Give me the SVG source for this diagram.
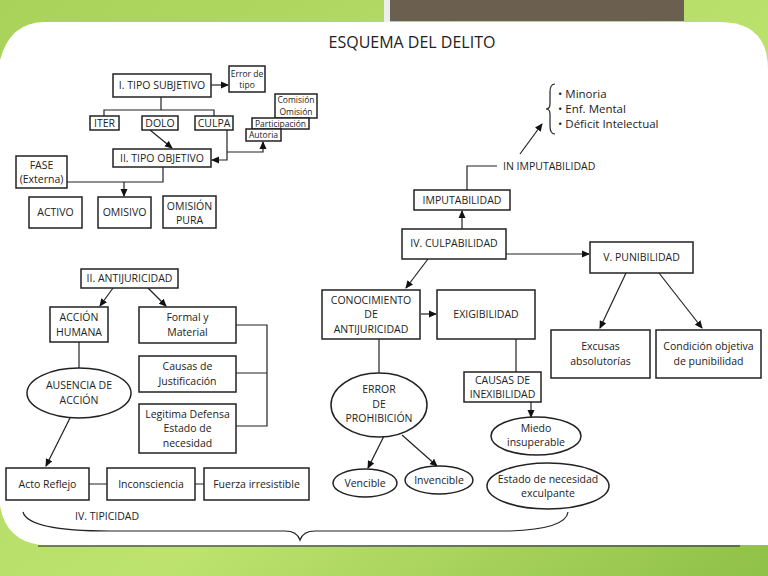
<svg xmlns="http://www.w3.org/2000/svg" width="768" height="576" viewBox="0 0 768 576">
<defs>
<linearGradient id="bg" x1="0" y1="0" x2="1" y2="1"><stop offset="0" stop-color="#a8d25a"/><stop offset="0.6" stop-color="#bde36e"/><stop offset="1" stop-color="#8fc048"/></linearGradient>
<marker id="ah" markerWidth="8" markerHeight="8" refX="7" refY="4" orient="auto" markerUnits="userSpaceOnUse"><path d="M0,0.5 L8,4 L0,7.5 Z" fill="#111"/></marker>
<style>
.b{fill:#fff;stroke:#222;stroke-width:1.5}
.c{fill:none;stroke:#222;stroke-width:1.2}
.a{fill:none;stroke:#222;stroke-width:1.2;marker-end:url(#ah)}
text{font-family:"Open Sans","Liberation Sans",sans-serif;font-size:10.5px;fill:#222;text-anchor:middle}
.s{font-size:8.5px}
.l{text-anchor:start}
.m{font-size:11.5px}
</style>
</defs>
<rect width="768" height="576" fill="url(#bg)"/>
<path d="M0,60 Q10,22 45,22 L720,22 Q768,22 768,70 L768,545 L40,545 Q5,540 0,505 Z" fill="#fff"/>
<rect x="384" y="0" width="6" height="22" fill="#eee"/>
<rect x="390" y="0" width="294" height="21" fill="#6b6050"/>
<line x1="38" y1="546" x2="740" y2="546" stroke="#222" stroke-width="1.2"/>
<text x="412" y="48" style="font-size:16px">ESQUEMA DEL DELITO</text>

<g id="connectors">
<path class="a" d="M211,85 H228"/>
<path class="c" d="M161,97 V110 M104,116 V110 H214 V116"/>
<path class="a" d="M150,130 L172,148"/>
<path class="a" d="M227,130 V160 H212"/>
<path class="a" d="M227,152 H263 V142"/>
<path class="c" d="M67,182 H163 V167"/>
<path class="a" d="M124,182 V196"/>
<path class="a" d="M520,154 L542,124"/>
<path class="c" d="M497,166 H467 V190"/>
<path class="a" d="M462,229 V211"/>
<path class="a" d="M506,254 H589"/>
<path class="a" d="M428,259 L406,288"/>
<path class="a" d="M421,314 H436"/>
<path class="a" d="M626,273 L600,328"/>
<path class="a" d="M659,273 L702,328"/>
<path class="c" d="M379,339 V374"/>
<path class="a" d="M384,436 L368,468"/>
<path class="a" d="M402,435 L437,466"/>
<path class="c" d="M516,339 V372"/>
<path class="a" d="M531,402 V417"/>
<path class="a" d="M113,288 L100,306"/>
<path class="a" d="M148,288 L166,306"/>
<path class="c" d="M236,325 H267 V426 H236 M236,373 H267"/>
<path class="c" d="M79,342 V369"/>
<path class="a" d="M70,418 L46,466"/>
<path class="c" d="M89,484 H107 M195,484 H204"/>
<path class="c" d="M555,84 Q550,84 550,92 L550,104 Q550,109 546,109 Q550,109 550,114 L550,126 Q550,134 555,134"/>
<path class="c" d="M23,512 Q28,531 110,531 L285,531 Q297,531 300,540 Q303,531 315,531 L510,531 Q566,529 568,512"/>
</g>

<g id="n1"><rect class="b" x="113" y="74" width="98" height="23"/><text x="162" y="89">I. TIPO SUBJETIVO</text></g>
<g id="n2"><rect class="b" x="229" y="66" width="36" height="26"/><text class="s" x="247" y="77">Error de</text><text class="s" x="247" y="88">tipo</text></g>
<g id="n3"><rect class="b" x="90" y="116" width="29" height="14"/><text x="104.5" y="127">ITER</text></g>
<g id="n4"><rect class="b" x="142" y="116" width="36" height="14"/><text x="160" y="127">DOLO</text></g>
<g id="n5"><rect class="b" x="195" y="116" width="38" height="14"/><text x="214" y="127">CULPA</text></g>
<g id="n6"><rect class="b" x="275" y="94" width="42" height="24"/><text class="s" x="296" y="103">Comisión</text><text class="s" x="296" y="115">Omisión</text></g>
<g id="n7"><rect class="b" x="252" y="118" width="57" height="11"/><text class="s" x="280.5" y="127">Participación</text></g>
<g id="n8"><rect class="b" x="246" y="129" width="35" height="12"/><text class="s" x="263.5" y="138">Autoria</text></g>
<g id="n9"><rect class="b" x="113" y="149" width="98" height="18"/><text x="162" y="162">II. TIPO OBJETIVO</text></g>
<g id="n10"><rect class="b" x="16" y="156" width="51" height="32"/><text x="41.5" y="169">FASE</text><text x="41.5" y="183">(Externa)</text></g>
<g id="n11"><rect class="b" x="29" y="197" width="53" height="31"/><text x="55.5" y="216">ACTIVO</text></g>
<g id="n12"><rect class="b" x="98" y="197" width="53" height="31"/><text x="124.5" y="216">OMISIVO</text></g>
<g id="n13"><rect class="b" x="163" y="196" width="53" height="32"/><text x="189.5" y="210">OMISIÓN</text><text x="189.5" y="224">PURA</text></g>

<g id="n14"><text class="l m" x="558" y="98">• Minoria</text><text class="l m" x="558" y="113">• Enf. Mental</text><text class="l m" x="558" y="128">• Déficit Intelectual</text></g>
<g id="n15"><text class="l" x="503" y="170">IN IMPUTABILIDAD</text></g>
<g id="n16"><rect class="b" x="414" y="190" width="96" height="20"/><text x="462" y="204">IMPUTABILIDAD</text></g>
<g id="n17"><rect class="b" x="402" y="229" width="104" height="30"/><text x="454" y="247">IV. CULPABILIDAD</text></g>
<g id="n18"><rect class="b" x="590" y="242" width="103" height="31"/><text x="641.5" y="261">V. PUNIBILIDAD</text></g>
<g id="n19"><rect class="b" x="322" y="290" width="98" height="49"/><text x="371" y="304">CONOCIMIENTO</text><text x="371" y="318">DE</text><text x="371" y="333">ANTIJURICIDAD</text></g>
<g id="n20"><rect class="b" x="437" y="290" width="98" height="49"/><text x="486" y="318">EXIGIBILIDAD</text></g>
<g id="n21"><rect class="b" x="551" y="330" width="99" height="48"/><text x="600.5" y="350">Excusas</text><text x="600.5" y="365">absolutorías</text></g>
<g id="n22"><rect class="b" x="656" y="330" width="105" height="48"/><text x="708.5" y="350">Condición objetiva</text><text x="708.5" y="365">de punibilidad</text></g>
<g id="n23"><ellipse class="b" cx="379" cy="405" rx="48" ry="32"/><text x="379" y="393">ERROR</text><text x="379" y="408">DE</text><text x="379" y="422">PROHIBICIÓN</text></g>
<g id="n24"><ellipse class="b" cx="365" cy="483" rx="32" ry="14"/><text x="365" y="487">Vencible</text></g>
<g id="n25"><ellipse class="b" cx="439" cy="480" rx="34" ry="14"/><text x="439" y="484">Invencible</text></g>
<g id="n26"><rect class="b" x="464" y="372" width="77" height="30"/><text x="502.5" y="384">CAUSAS DE</text><text x="502.5" y="398">INEXIBILIDAD</text></g>
<g id="n27"><ellipse class="b" cx="536" cy="436" rx="45" ry="19"/><text x="536" y="432">Miedo</text><text x="536" y="446">insuperable</text></g>
<g id="n28"><ellipse class="b" cx="548" cy="486" rx="61" ry="23"/><text x="548" y="483">Estado de necesidad</text><text x="548" y="497">exculpante</text></g>

<g id="n29"><rect class="b" x="81" y="269" width="97" height="19"/><text x="129.5" y="282">II. ANTIJURICIDAD</text></g>
<g id="n30"><rect class="b" x="50" y="307" width="58" height="35"/><text x="79" y="321">ACCIÓN</text><text x="79" y="336">HUMANA</text></g>
<g id="n31"><rect class="b" x="139" y="307" width="97" height="36"/><text x="187.5" y="321">Formal y</text><text x="187.5" y="336">Material</text></g>
<g id="n32"><rect class="b" x="139" y="356" width="97" height="36"/><text x="187.5" y="370">Causas de</text><text x="187.5" y="385">Justificación</text></g>
<g id="n33"><rect class="b" x="139" y="404" width="97" height="49"/><text x="187.5" y="418">Legitima Defensa</text><text x="187.5" y="432">Estado de</text><text x="187.5" y="447">necesidad</text></g>
<g id="n34"><ellipse class="b" cx="79" cy="393" rx="52" ry="25"/><text x="79" y="389">AUSENCIA DE</text><text x="79" y="404">ACCIÓN</text></g>
<g id="n35"><rect class="b" x="6" y="468" width="83" height="32"/><text x="47.5" y="488">Acto Reflejo</text></g>
<g id="n36"><rect class="b" x="107" y="468" width="88" height="32"/><text x="151" y="488">Inconsciencia</text></g>
<g id="n37"><rect class="b" x="204" y="468" width="105" height="32"/><text x="256.5" y="488">Fuerza irresistible</text></g>
<g id="n38"><text class="l" x="75" y="520">IV. TIPICIDAD</text></g>
</svg>
